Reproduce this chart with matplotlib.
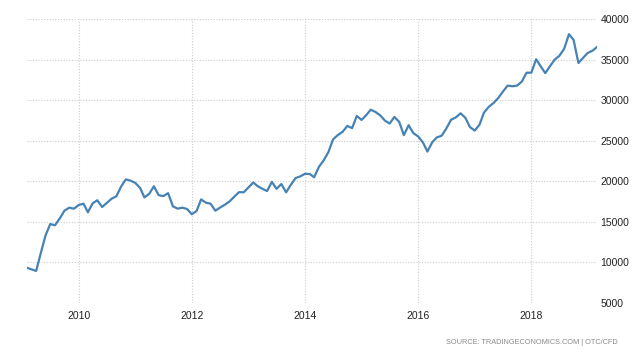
import numpy as np
import pandas as pd
import matplotlib
matplotlib.use("Agg")
import matplotlib.pyplot as plt
import matplotlib.dates as mdates

# monthly closes, Feb 2009 .. Mar 2019
start = "2009-02-01"
values = [
    9350, 9150, 8950, 11150, 13350, 14730, 14580, 15440, 16380, 16750, 16620,
    17080, 17240, 16180, 17290, 17660, 16830, 17330, 17850, 18150, 19330, 20240,
    20080, 19800, 19190, 18010, 18450, 19390, 18290, 18170, 18540, 16910, 16630,
    16750, 16590, 15940, 16340, 17770, 17360, 17240, 16380, 16750, 17110, 17520,
    18100, 18660, 18640, 19250, 19850, 19400, 19070, 18800, 19930, 19070, 19660,
    18640, 19560, 20400, 20600, 20930, 20890, 20500, 21790, 22570, 23600, 25170,
    25700, 26100, 26830, 26550, 28050, 27560, 28170, 28820, 28540, 28130, 27480,
    27110, 27930, 27320, 25690, 26910, 25940, 25530, 24800, 23660, 24800, 25410,
    25610, 26500, 27580, 27880, 28380, 27830, 26670, 26250, 27000, 28460, 29170,
    29630, 30250, 31040, 31790, 31710, 31790, 32290, 33380, 33380, 35040, 34210,
    33330, 34170, 35000, 35460, 36330, 38130, 37420, 34580, 35210, 35830, 36100,
    36550,
]
dates = pd.date_range(start, periods=len(values), freq="MS")

yticks = [5000, 10000, 15000, 20000, 25000, 30000, 35000, 40000]
xtick_years = [2010, 2012, 2014, 2016, 2018]

plt.rcParams["font.family"] = ["Liberation Sans", "DejaVu Sans"]

fig = plt.figure(figsize=(6.4, 3.53), dpi=100)
ax = fig.add_axes([27 / 640, 1 - 303 / 353, 570 / 640, 284 / 353])

ax.plot(dates, values, color="#4682b4", lw=1.6, solid_joinstyle="round")

ax.set_xlim(dates[0], dates[-1])
ax.set_ylim(5000, 40000)
ax.set_yticks(yticks)
ax.set_xticks([pd.Timestamp(f"{y}-01-01") for y in xtick_years])
ax.xaxis.set_major_formatter(mdates.DateFormatter("%Y"))

ax.yaxis.tick_right()
ax.tick_params(axis="both", length=0, labelsize=7.5, colors="#222222")
ax.tick_params(axis="y", pad=2.5)
ax.tick_params(axis="x", pad=6)

ax.grid(True, color="#cccccc", linestyle=(0, (1, 1.5)), lw=0.8)
for s in ax.spines.values():
    s.set_visible(False)

fig.text(618 / 640, 1 - 343 / 353, "SOURCE: TRADINGECONOMICS.COM | OTC/CFD",
         ha="right", va="center", fontsize=5.3, color="#8a8a8a")

fig.savefig("out.png", dpi=100)
